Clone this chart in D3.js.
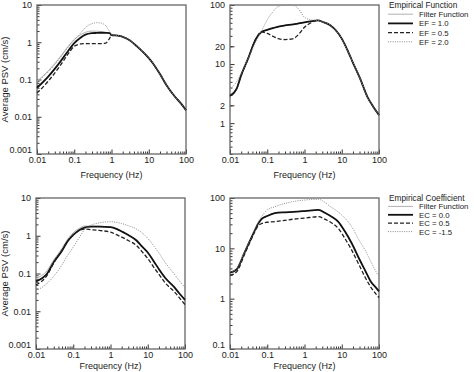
<!DOCTYPE html>
<html>
<head>
<meta charset="utf-8">
<script src="https://cdn.jsdelivr.net/npm/d3@7"></script>
<style>
  body { margin: 0; background: #fff; }
  text { font-family: "Liberation Sans", Arial, sans-serif; fill: #222; }
</style>
</head>
<body>
<div id="chart"></div>
<script>
const W = 474, H = 372;

// top-left: empirical function
const freqTL = [0.01, 0.02, 0.04, 0.07, 0.1, 0.15, 0.2, 0.3, 0.4, 0.5, 0.7, 0.9, 1, 1.5, 2, 3, 5, 8, 12, 20, 30, 50, 70, 100];
const filterTL = [0.09, 0.17, 0.38, 0.8, 1.2, 1.6, 1.85, 2.0, 1.98, 1.95, 1.85, 1.75, 1.55, 1.5, 1.4, 1.15, 0.75, 0.48, 0.3, 0.14, 0.07, 0.035, 0.024, 0.015];
const ef10 = [0.06, 0.12, 0.28, 0.6, 0.95, 1.35, 1.6, 1.75, 1.78, 1.8, 1.78, 1.75, 1.55, 1.5, 1.4, 1.15, 0.75, 0.48, 0.3, 0.14, 0.07, 0.035, 0.024, 0.015];
const ef05 = [0.043, 0.09, 0.22, 0.5, 0.78, 0.9, 0.92, 0.92, 0.92, 0.92, 0.95, 1.3, 1.55, 1.5, 1.4, 1.15, 0.75, 0.48, 0.3, 0.14, 0.07, 0.035, 0.024, 0.015];
const ef20 = [0.085, 0.16, 0.36, 0.75, 1.15, 1.8, 2.5, 3.15, 3.35, 3.3, 2.8, 1.9, 1.6, 1.5, 1.4, 1.15, 0.75, 0.48, 0.3, 0.14, 0.07, 0.035, 0.024, 0.015];

// top-right
const freqTR = [0.01, 0.015, 0.02, 0.03, 0.05, 0.07, 0.1, 0.15, 0.2, 0.3, 0.5, 0.7, 1, 1.5, 2.3, 3, 5, 7, 10, 15, 20, 30, 50, 70, 100];
const filterTR = [2.9, 3.8, 6.5, 12, 27, 35, 38, 41, 43, 45, 47, 49, 51, 53, 55, 52, 45, 37, 27, 16, 10.5, 6, 2.7, 1.9, 1.37];
const ef10R = [2.9, 3.8, 6.5, 12, 27, 35, 38, 41, 43, 45, 47, 49, 51, 53, 55, 52, 45, 37, 27, 16, 10.5, 6, 2.7, 1.9, 1.37];
const ef05R = [2.9, 3.8, 6.5, 12, 27, 35, 33, 29, 27, 26, 27, 32, 42, 50, 55, 52, 45, 37, 27, 16, 10.5, 6, 2.7, 1.9, 1.37];
const ef20R = [3.8, 5, 7, 12, 24, 36, 56, 80, 95, 99, 99, 85, 62, 56, 55, 52, 45, 37, 27, 16, 10.5, 6, 2.7, 1.9, 1.37];

// bottom-left: empirical coefficient
const freqBL = [0.01, 0.02, 0.03, 0.05, 0.07, 0.1, 0.15, 0.2, 0.3, 0.5, 1, 1.5, 2, 3, 5, 7, 10, 15, 20, 30, 50, 70, 100];
const filterBL = [0.075, 0.12, 0.23, 0.46, 0.8, 1.2, 1.6, 1.8, 1.8, 1.78, 1.7, 1.5, 1.3, 1.05, 0.75, 0.52, 0.36, 0.2, 0.13, 0.075, 0.045, 0.03, 0.02];
const ec00 = [0.062, 0.1, 0.2, 0.4, 0.7, 1.05, 1.45, 1.65, 1.75, 1.75, 1.7, 1.5, 1.3, 1.05, 0.75, 0.52, 0.36, 0.2, 0.13, 0.075, 0.045, 0.03, 0.02];
const ec05 = [0.05, 0.09, 0.19, 0.42, 0.72, 1.05, 1.4, 1.5, 1.45, 1.38, 1.25, 1.05, 0.92, 0.75, 0.55, 0.38, 0.25, 0.14, 0.095, 0.055, 0.034, 0.023, 0.015];
const ecm15 = [0.035, 0.055, 0.085, 0.17, 0.3, 0.5, 0.95, 1.45, 1.9, 2.2, 2.35, 2.25, 2.1, 1.85, 1.5, 1.2, 0.85, 0.52, 0.35, 0.19, 0.1, 0.065, 0.042];

// bottom-right
const freqBR = [0.01, 0.015, 0.025, 0.04, 0.057, 0.07, 0.1, 0.16, 0.3, 0.5, 1, 2.4, 3.5, 5, 8, 12, 18.5, 30, 42, 60, 86, 100];
const filterBR = [3.3, 3.8, 8.5, 18, 31, 38, 44, 50, 52, 53, 55, 58, 51, 44, 34, 22, 12.6, 6, 3.7, 2.2, 1.6, 1.4];
const ec00R = [3.3, 3.8, 8.5, 18, 31, 38, 44, 50, 52, 53, 55, 58, 51, 44, 34, 22, 12.6, 6, 3.7, 2.2, 1.6, 1.4];
const ec05R = [2.9, 3.4, 7.8, 17, 28, 31, 33, 34, 36, 38, 40, 42.5, 38, 33, 25, 16, 9.2, 4.5, 2.7, 1.7, 1.2, 1.05];
const ecm15R = [3.4, 3.9, 8.8, 19, 33, 42, 58, 67, 78, 85, 91, 94, 82, 67, 53, 40, 27, 14, 9.3, 5.5, 3.3, 2.8];

const xTicks = [0.01, 0.1, 1, 10, 100];
const yTicksA = [0.001, 0.01, 0.1, 1, 10];
const yTicksTR = [1, 2, 10, 20, 100];
const yTicksBR = [0.1, 1, 10, 100];

const legendTop = ["Filter Function", "EF = 1.0", "EF = 0.5", "EF = 2.0"];
const legendBottom = ["Filter Function", "EC = 0.0", "EC = 0.5", "EC = -1.5"];

const styles = [
  { stroke: "#b0b0b0", width: 1, dash: null },
  { stroke: "#111", width: 1.8, dash: null },
  { stroke: "#222", width: 1.3, dash: "4,2" },
  { stroke: "#8a8a8a", width: 1, dash: "1,1.3" }
];

const svg = d3.select("#chart").append("svg")
  .attr("width", W).attr("height", H);

const panels = [
  { x: [37, 186], y: [5, 154], ydom: [0.001, 10], yt: yTicksA, f: freqTL, series: [filterTL, ef10, ef05, ef20], ylab: true, lab: 178 },
  { x: [230, 379], y: [5, 154], ydom: [0.3, 100], yt: yTicksTR, f: freqTR, series: [filterTR, ef10R, ef05R, ef20R], ylab: false, lab: 178 },
  { x: [36, 185], y: [198, 349], ydom: [0.001, 10], yt: yTicksA, f: freqBL, series: [filterBL, ec00, ec05, ecm15], ylab: true, lab: 369 },
  { x: [230, 379], y: [198, 349], ydom: [0.1, 100], yt: yTicksBR, f: freqBR, series: [filterBR, ec00R, ec05R, ecm15R], ylab: false, lab: 369 }
];

function minorTicks(dom) {
  const out = [];
  const lo = Math.floor(Math.log10(dom[0])), hi = Math.ceil(Math.log10(dom[1]));
  for (let e = lo; e < hi; e++) {
    for (let m = 2; m <= 9; m++) {
      const v = m * Math.pow(10, e);
      if (v >= dom[0] * 0.999 && v <= dom[1] * 1.001) out.push(v);
    }
  }
  return out;
}

panels.forEach(p => {
  const x = d3.scaleLog().domain([0.01, 100]).range(p.x);
  const y = d3.scaleLog().domain(p.ydom).range([p.y[1], p.y[0]]);
  const g = svg.append("g");

  // minor ticks
  g.append("g").attr("transform", `translate(0,${p.y[1]})`)
    .call(d3.axisBottom(x).tickValues(minorTicks([0.01, 100])).tickSize(-2.5).tickFormat(""))
    .call(a => a.select(".domain").remove())
    .call(a => a.selectAll("line").attr("stroke", "#333"));
  g.append("g").attr("transform", `translate(${p.x[0]},0)`)
    .call(d3.axisLeft(y).tickValues(minorTicks(p.ydom)).tickSize(-2.5).tickFormat(""))
    .call(a => a.select(".domain").remove())
    .call(a => a.selectAll("line").attr("stroke", "#333"));

  // major ticks + labels
  g.append("g").attr("transform", `translate(0,${p.y[1]})`)
    .call(d3.axisBottom(x).tickValues(xTicks).tickSize(-4.5).tickPadding(3).tickFormat(d => String(d)))
    .call(a => a.select(".domain").remove())
    .call(a => a.selectAll("line").attr("stroke", "#333"))
    .call(a => a.selectAll("text").attr("font-size", 9).attr("fill", "#222"));
  g.append("g").attr("transform", `translate(${p.x[0]},0)`)
    .call(d3.axisLeft(y).tickValues(p.yt).tickSize(-4.5).tickPadding(5).tickFormat(d => String(d)))
    .call(a => a.select(".domain").remove())
    .call(a => a.selectAll("line").attr("stroke", "#333"))
    .call(a => a.selectAll("text").attr("font-size", 9).attr("fill", "#222")
      .attr("y", d => d === p.ydom[0] ? -4 : null));

  // frame
  g.append("rect")
    .attr("x", p.x[0]).attr("y", p.y[0])
    .attr("width", p.x[1] - p.x[0]).attr("height", p.y[1] - p.y[0])
    .attr("fill", "none").attr("stroke", "#666").attr("stroke-width", 1.3);

  const line = d3.line()
    .x((d, i) => x(p.f[i]))
    .y(d => y(d))
    .curve(d3.curveMonotoneX);

  p.series.forEach((s, k) => {
    const st = styles[k];
    g.append("path")
      .datum(s)
      .attr("d", line)
      .attr("fill", "none")
      .attr("stroke", st.stroke)
      .attr("stroke-width", st.width)
      .attr("stroke-dasharray", st.dash);
  });

  g.append("text")
    .attr("x", (p.x[0] + p.x[1]) / 2)
    .attr("y", p.lab)
    .attr("text-anchor", "middle")
    .attr("font-size", 9)
    .text("Frequency (Hz)");

  if (p.ylab) {
    g.append("text")
      .attr("transform", `translate(8,${(p.y[0] + p.y[1]) / 2}) rotate(-90)`)
      .attr("text-anchor", "middle")
      .attr("font-size", 9.5)
      .text("Average PSV (cm/s)");
  }
});

function legend(title, labels, top, step) {
  const g = svg.append("g");
  g.append("text").attr("x", 389).attr("y", top + 3)
    .attr("font-size", 8.3).text(title);
  labels.forEach((lab, k) => {
    const yy = top + step * (k + 1);
    const st = styles[k];
    g.append("line")
      .attr("x1", 388).attr("x2", 413).attr("y1", yy).attr("y2", yy)
      .attr("stroke", st.stroke).attr("stroke-width", st.width)
      .attr("stroke-dasharray", st.dash);
    g.append("text").attr("x", 419).attr("y", yy + 3)
      .attr("font-size", 7.8).text(lab);
  });
}
legend("Empirical Function", legendTop, 5, 9.2);
legend("Empirical Coefficient", legendBottom, 198, 8.4);
</script>
</body>
</html>
